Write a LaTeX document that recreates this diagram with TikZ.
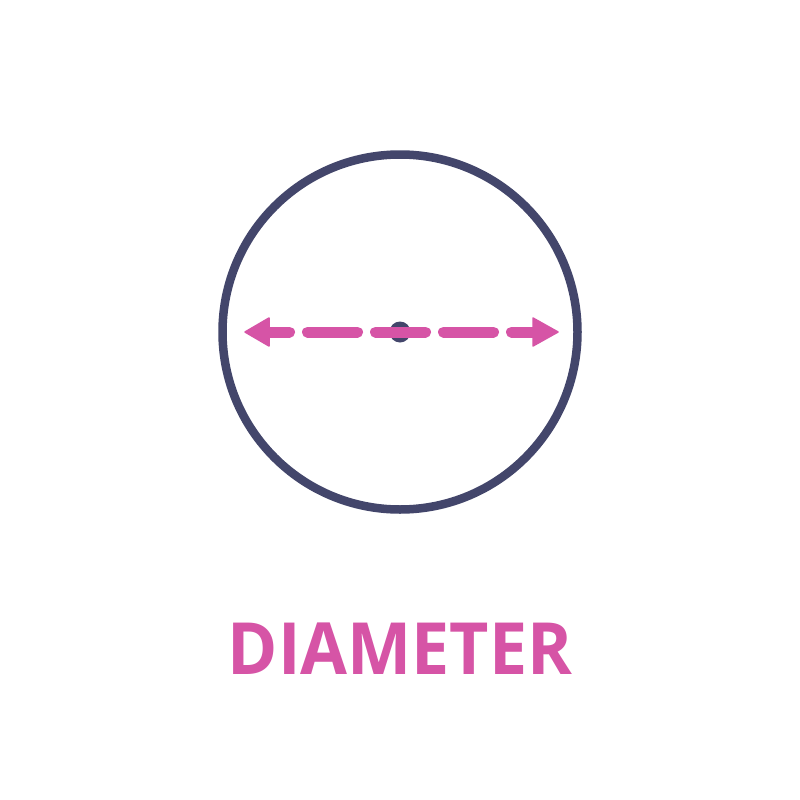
\documentclass[tikz,border=0pt]{standalone}
\usepackage{fontspec}
\setmainfont{Open Sans}
\definecolor{navy}{RGB}{67,70,107}
\definecolor{pink}{RGB}{214,84,166}
\begin{document}
\begin{tikzpicture}[x=1pt,y=-1pt,
  ring/.style={circle,draw=navy,line width=8.5pt,minimum size=355pt,inner sep=0pt},
  hub/.style={circle,fill=navy,minimum size=21pt,inner sep=0pt},
  dashline/.style={draw=pink,line width=11pt,line cap=round,dash pattern=on 50pt off 18pt,dash phase=29.5pt},
  head/.style={fill=pink,draw=pink,line width=1.5pt,line join=round},
  title/.style={text=pink,font=\fontsize{72}{72}\selectfont\bfseries,inner sep=0pt,xscale=0.945}]
\useasboundingbox[fill=white] (0,0) rectangle (800,800);
\node[ring] (circ) at (400,332) {};
\node[hub] (ctr) at (400,332) {};
\coordinate (L) at (245,332);
\coordinate (R) at (558,332);
\coordinate (Lb) at (269,332);
\coordinate (Rb) at (533,332);
\draw[dashline] (Lb) -- (Rb);
\path[head] (L) -- ([yshift=-14pt]Lb) -- ([yshift=14pt]Lb) -- cycle;
\path[head] (R) -- ([yshift=-14pt]Rb) -- ([yshift=14pt]Rb) -- cycle;
\node[title,anchor=base] (lbl) at (400,674) {DIAMETER};
\end{tikzpicture}
\end{document}
